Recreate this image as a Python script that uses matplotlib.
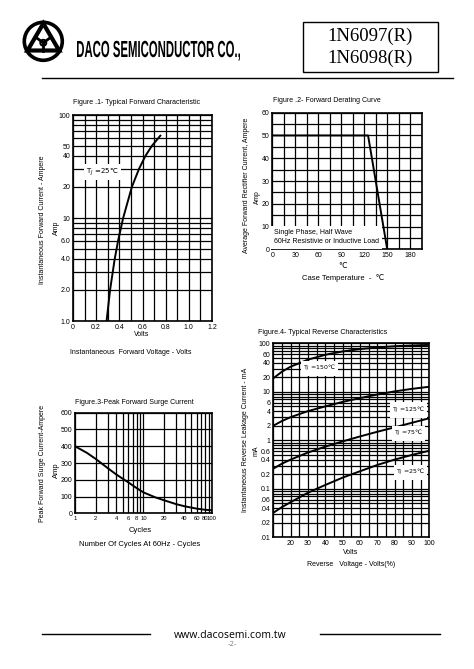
import numpy as np
import matplotlib.pyplot as plt
from matplotlib.patches import Circle, Polygon, Rectangle, PathPatch
from matplotlib.ticker import FixedLocator, FixedFormatter, NullFormatter, LogLocator, MultipleLocator
from matplotlib.textpath import TextPath
from matplotlib.font_manager import FontProperties
from matplotlib.transforms import Affine2D

plt.rcParams.update({
    "font.family": ["Liberation Sans", "DejaVu Sans"],
    "font.size": 5,
    "axes.linewidth": 1.2,
})

# ---- data ----
fwd_volts = [0.29, 0.32, 0.36, 0.389, 0.433, 0.508, 0.57, 0.625, 0.68, 0.754]
fwd_amps = [1, 2, 4, 6, 10, 20, 30, 40, 50, 63]

derate_temp = [0, 125, 150]
derate_amps = [50, 50, 0]

surge_cycles = [1, 1.5, 2, 3, 4, 6, 8, 10, 15, 20, 30, 40, 60, 80, 100]
surge_amps = [400, 360, 325, 270, 232, 185, 150, 125, 95, 78, 55, 42, 28, 21, 18]

rev_volts = [10, 15, 20, 30, 40, 50, 60, 70, 80, 90, 100]
rev_ma_150 = [19, 26, 33, 46, 58, 68, 76, 82, 87, 90, 93]
rev_ma_125 = [2.0, 2.5, 3.0, 4.0, 5.0, 6.2, 7.4, 8.8, 10.2, 11.5, 12.7]
rev_ma_75 = [0.26, 0.33, 0.40, 0.56, 0.74, 0.95, 1.2, 1.5, 1.85, 2.3, 2.85]
rev_ma_25 = [0.032, 0.042, 0.053, 0.083, 0.12, 0.17, 0.23, 0.31, 0.40, 0.50, 0.61]

fwd_xticks = [0, 0.2, 0.4, 0.6, 0.8, 1.0, 1.2]
fwd_xlabels = ["0", "0.2", "0.4", "0.6", "0.8", "1.0", "1.2"]
fwd_yticks = [1, 2, 4, 6, 10, 20, 40, 50, 100]
fwd_ylabels = ["1.0", "2.0", "4.0", "6.0", "10", "20", "40", "50", "100"]
surge_xticks = [1, 2, 4, 6, 8, 10, 20, 40, 60, 80, 100]
rev_yticks = [0.01, 0.02, 0.04, 0.06, 0.1, 0.2, 0.4, 0.6, 1, 2, 4, 6, 10, 20, 40, 60, 100]
rev_ylabels = [".01", ".02", ".04", ".06", "0.1", "0.2", "0.4", "0.6", "1", "2", "4", "6",
               "10", "20", "40", "60", "100"]

W, H = 474, 669
fig = plt.figure(figsize=(W / 100, H / 100), dpi=100)

# overlay in pixel coordinates for the page furniture
page = fig.add_axes([0, 0, 1, 1], zorder=-1)
page.set_xlim(0, W)
page.set_ylim(H, 0)
page.axis("off")


def px_axes(left, top, right, bottom):
    return fig.add_axes([left / W, 1 - bottom / H, (right - left) / W, (bottom - top) / H])


def ptext(x, y, s, **kw):
    kw.setdefault("fontsize", 5)
    kw.setdefault("va", "center")
    page.text(x, y, s, **kw)


def style(ax):
    ax.grid(True, which="both", color="black", lw=0.9)
    ax.tick_params(which="both", length=0, pad=2, labelsize=5)
    ax.set_axisbelow(True)


# ---- header ----
cx, cy = 43.3, 41.3
page.add_patch(Circle((cx, cy), 19, fill=False, lw=2.6, color="black"))
tri = [(43.3, 23.5), (27.5, 50.5), (59.1, 50.5)]
page.add_patch(Polygon(tri, closed=True, fc="none", ec="black", lw=3.0))
for mx, my in [(43.3, 50.5), (35.4, 37.0), (51.2, 37.0)]:
    page.plot([cx, mx], [cy + 1.5, my], color="black", lw=2.0)
page.add_patch(Circle((cx, cy + 1.5), 3.0, fc="white", ec="black", lw=1.4))

tp = TextPath((0, 0), "DACO SEMICONDUCTOR CO.,", size=1,
              prop=FontProperties(family=["Liberation Sans Narrow", "Liberation Sans"], weight="bold"))
ext = tp.get_extents()
sx = 163 / ext.width
sy = 17 / 0.73
tr = Affine2D().translate(-ext.x0, 0).scale(sx, -sy).translate(77, 57)
page.add_patch(PathPatch(tr.transform_path(tp), fc="black", ec="none"))

page.add_patch(Rectangle((303.3, 21.7), 135, 50, fill=False, lw=1.0, color="black"))
ptext(370.5, 36.5, "1N6097(R)", fontsize=13.5, ha="center", family="Liberation Serif")
ptext(370.5, 58.5, "1N6098(R)", fontsize=13.5, ha="center", family="Liberation Serif")
page.plot([41.7, 453.3], [77.7, 77.7], color="black", lw=1.0)

# ---- footer ----
page.plot([42, 150], [634.3, 634.3], color="black", lw=1.0)
page.plot([320, 440], [634.3, 634.3], color="black", lw=1.0)
ptext(230.5, 635.5, "www.dacosemi.com.tw", fontsize=7.6, ha="center", family="Open Sans")
ptext(232.3, 644, "-2-", fontsize=5.5, ha="center", color="#777777", family="Open Sans")

# ---- Figure 1 ----
ax1 = px_axes(73, 115, 212, 321)
ax1.plot(fwd_volts, fwd_amps, color="black", lw=1.4)
ax1.set_yscale("log")
ax1.set_xlim(0, 1.2)
ax1.set_ylim(1, 100)
ax1.xaxis.set_major_locator(FixedLocator(fwd_xticks))
ax1.xaxis.set_major_formatter(FixedFormatter(fwd_xlabels))
ax1.xaxis.set_minor_locator(MultipleLocator(0.1))
ax1.yaxis.set_major_locator(FixedLocator(fwd_yticks))
ax1.yaxis.set_major_formatter(FixedFormatter(fwd_ylabels))
ax1.yaxis.set_minor_locator(LogLocator(subs=np.arange(1, 10)))
ax1.yaxis.set_minor_formatter(NullFormatter())
style(ax1)
ax1.text(0.255, 28, r"T$_J$ =25℃", fontsize=5, ha="center", va="center", family="DejaVu Sans",
         bbox=dict(fc="white", ec="none", pad=1.5))
ptext(73, 103, "Figure .1- Typical Forward Characteristic", ha="left")
ptext(43, 220, "Instantaneous Forward Current - Ampere", rotation=90, ha="center")
ptext(56, 228, "Amp", rotation=90, ha="center")
ptext(142, 335, "Volts", ha="center")
ptext(70, 353, "Instantaneous  Forward Voltage - Volts", ha="left")

# ---- Figure 2 ----
ax2 = px_axes(272.3, 112.7, 421.7, 249.3)
ax2.plot(derate_temp, derate_amps, color="black", lw=1.4)
ax2.set_xlim(0, 195)
ax2.set_ylim(0, 60)
ax2.xaxis.set_major_locator(FixedLocator([0, 30, 60, 90, 120, 150, 180]))
ax2.xaxis.set_minor_locator(MultipleLocator(15))
ax2.yaxis.set_major_locator(MultipleLocator(10))
ax2.yaxis.set_minor_locator(MultipleLocator(5))
style(ax2)
ax2.text(2, 5.3, "Single Phase, Half Wave\n60Hz Resistivie or Inductive Load", fontsize=5,
         ha="left", va="center", linespacing=1.5,
         bbox=dict(fc="white", ec="none", pad=2.5))
ptext(273, 100, "Figure .2- Forward Derating Curve", ha="left")
ptext(247, 185, "Average Forward Rectifier Current, Ampere", rotation=90, ha="center")
ptext(257.5, 197, "Amp", rotation=90, ha="center", fontsize=4.8)
ptext(343, 266, "℃", ha="center", fontsize=5.5, family="DejaVu Sans")
ptext(343, 278, "Case Temperature  -  ℃", ha="center", fontsize=5.5)

# ---- Figure 3 ----
ax3 = px_axes(75, 412.7, 211.7, 513.3)
ax3.plot(surge_cycles, surge_amps, color="black", lw=1.4)
ax3.set_xscale("log")
ax3.set_xlim(1, 100)
ax3.set_ylim(0, 600)
ax3.xaxis.set_major_locator(FixedLocator(surge_xticks))
ax3.xaxis.set_major_formatter(FixedFormatter([str(v) for v in surge_xticks]))
ax3.xaxis.set_minor_locator(LogLocator(subs=np.arange(1, 10)))
ax3.xaxis.set_minor_formatter(NullFormatter())
ax3.yaxis.set_major_locator(MultipleLocator(100))
style(ax3)
ax3.tick_params(axis="x", labelsize=4.2)
ptext(75, 402, "Figure.3-Peak Forward Surge Current", ha="left")
ptext(43, 463, "Peak Forward Surge Current-Ampere", rotation=90, ha="center")
ptext(56, 470, "Amp", rotation=90, ha="center", fontsize=5.5)
ptext(140, 530, "Cycles", ha="center", fontsize=5.5)
ptext(140, 545, "Number Of Cycles At 60Hz - Cycles", ha="center", fontsize=5.5)

# ---- Figure 4 ----
ax4 = px_axes(273.3, 343.3, 429.3, 537.3)
for vals in (rev_ma_150, rev_ma_125, rev_ma_75, rev_ma_25):
    ax4.plot(rev_volts, vals, color="black", lw=1.4)
ax4.set_yscale("log")
ax4.set_xlim(10, 100)
ax4.set_ylim(0.01, 100)
ax4.xaxis.set_major_locator(FixedLocator([20, 30, 40, 50, 60, 70, 80, 90, 100]))
ax4.xaxis.set_minor_locator(MultipleLocator(5))
ax4.yaxis.set_major_locator(FixedLocator(rev_yticks))
ax4.yaxis.set_major_formatter(FixedFormatter(rev_ylabels))
ax4.yaxis.set_minor_locator(LogLocator(subs=np.arange(1, 10)))
ax4.yaxis.set_minor_formatter(NullFormatter())
style(ax4)
lab = dict(fontsize=4.5, ha="center", va="center", family="DejaVu Sans",
           bbox=dict(fc="white", ec="none", pad=1.5))
ax4.text(36.6, 30, r"T$_J$ =150℃", **lab)
ax4.text(88, 4.2, r"T$_J$ =125℃", **lab)
ax4.text(88, 1.4, r"T$_J$ =75℃", **lab)
ax4.text(89, 0.22, r"T$_J$ =25℃", **lab)
ptext(258, 332, "Figure.4- Typical Reverse Characteristics", ha="left")
ptext(246, 440, "Instantaneous Reverse Leakage Current - mA", rotation=90, ha="center")
ptext(256, 451, "mA", rotation=90, ha="center")
ptext(351, 553, "Volts", ha="center")
ptext(351, 565, "Reverse   Voltage - Volts(%)", ha="center")

fig.savefig("out.png", dpi=100)
